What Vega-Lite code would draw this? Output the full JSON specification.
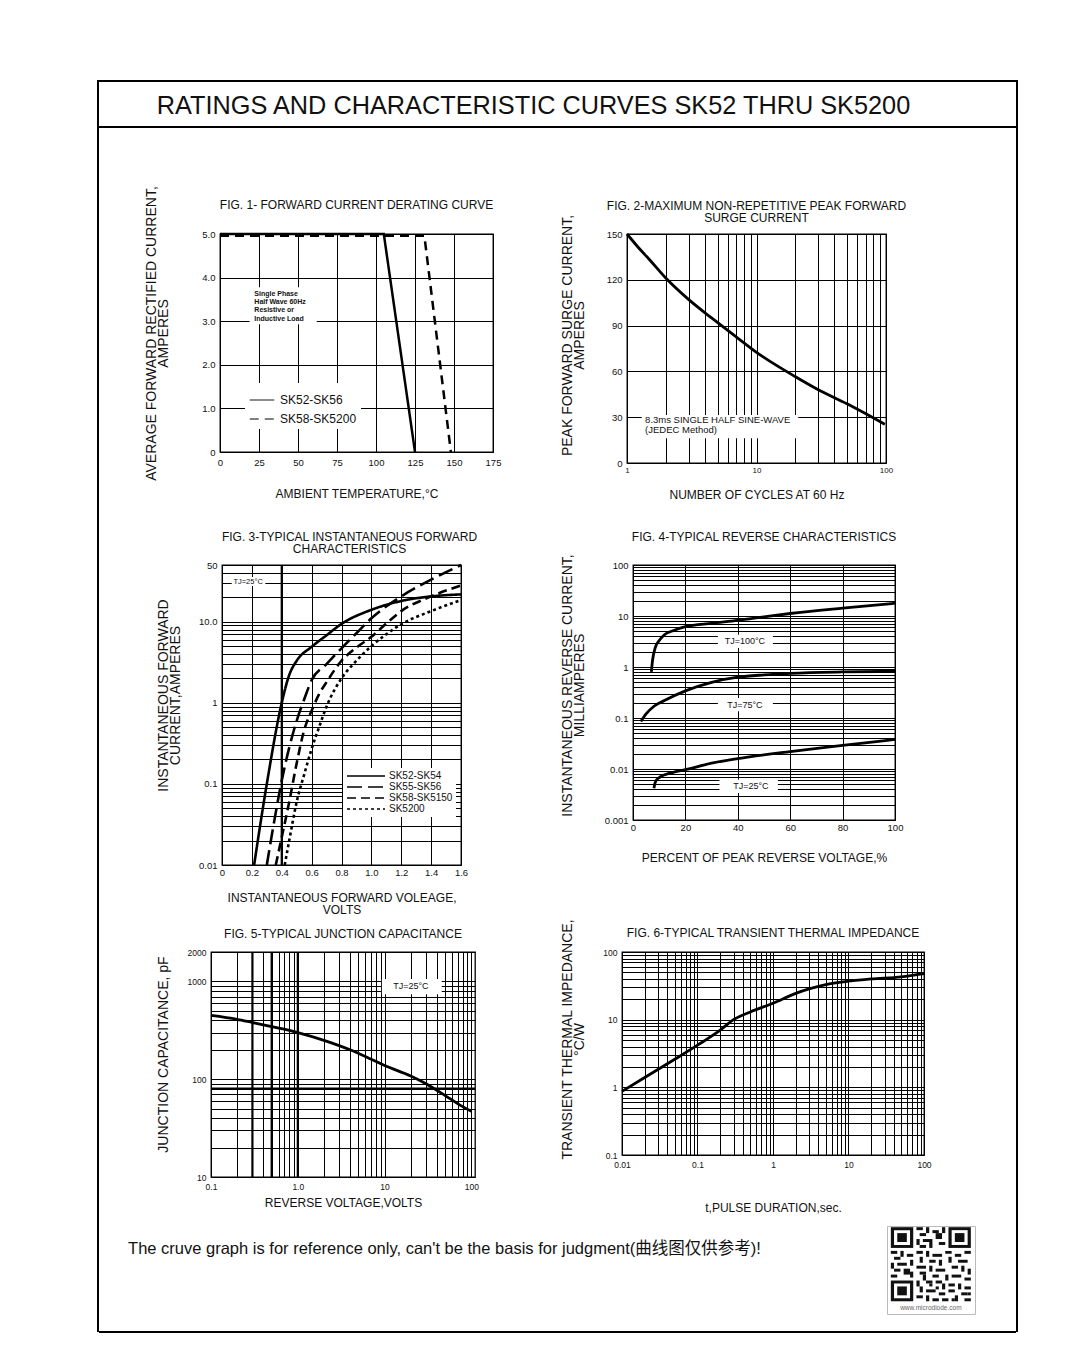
{
  "$schema": "https://vega.github.io/schema/vega-lite/v6.json",
  "padding": {"left": 97, "top": 80, "right": 0, "bottom": 0},
  "background": "white",
  "spacing": 0,
  "config": {
    "font": "Liberation Sans, Noto Sans CJK SC",
    "concat": {"spacing": 0},
    "view": {"stroke": "black", "strokeWidth": 1.3},
    "axis": {"domain": false, "ticks": false, "grid": true, "gridColor": "black", "gridOpacity": 1, "gridWidth": 1, "labelColor": "#111", "labelFontSize": 9.5, "labelPadding": 5, "labelFlush": false, "labelOverlap": false, "labelBound": false, "titleFontWeight": "normal", "titleColor": "#111", "titleFontSize": 12, "titleLineHeight": 12},
    "title": {"fontWeight": "normal", "fontSize": 12, "color": "#111", "lineHeight": 12, "anchor": "middle"},
    "legend": {"labelColor": "#111", "symbolStrokeColor": "black"}
  },
  "resolve": {"scale": {"x": "independent", "y": "independent", "strokeDash": "independent"}, "legend": {"strokeDash": "independent"}},
  "hconcat": [
    {"width": 2, "height": 1252, "data": {"values": []}, "mark": "point", "view": {"stroke": null, "fill": "black"}},
    {
      "spacing": 0,
      "resolve": {"scale": {"x": "independent", "y": "independent", "strokeDash": "independent"}, "legend": {"strokeDash": "independent"}},
      "vconcat": [
        {"width": 917, "height": 2, "data": {"values": []}, "mark": "point", "view": {"stroke": null, "fill": "black"}},
        {"spacing": 0, "bounds": "flush", "hconcat": [
          {"width": 58, "height": 44, "data": {"values": []}, "mark": "point", "view": {"stroke": null}},
          {"width": 753, "height": 44, "view": {"stroke": null}, "data": {"values": [{"t": "RATINGS AND CHARACTERISTIC CURVES SK52 THRU SK5200"}]}, "mark": {"type": "text", "fontSize": 25.3, "dy": 1.5, "color": "#111"}, "encoding": {"text": {"field": "t", "type": "nominal"}}}
        ]},
        {"width": 917, "height": 2, "data": {"values": []}, "mark": "point", "view": {"stroke": null, "fill": "black"}},
        {"width": 917, "height": 57, "data": {"values": []}, "mark": "point", "view": {"stroke": null}},
        {"spacing": 0, "bounds": "flush",
          "resolve": {"scale": {"x": "independent", "y": "independent", "strokeDash": "independent"}, "legend": {"strokeDash": "independent"}},
          "hconcat": [
          {"width": 121, "height": 1, "data": {"values": []}, "mark": "point", "view": {"stroke": null}},
          {
            "width": 273, "height": 218,
            "title": {"text": "FIG. 1- FORWARD CURRENT DERATING CURVE", "offset": -26},
            "encoding": {
              "x": {"field": "x", "type": "quantitative", "scale": {"domain": [0, 175], "nice": false, "zero": false}, "axis": {"values": [0, 25, 50, 75, 100, 125, 150, 175], "title": "AMBIENT TEMPERATURE,°C", "titlePadding": 22, "labelFlush": false}},
              "y": {"field": "y", "type": "quantitative", "scale": {"domain": [0, 5], "nice": false}, "axis": {"values": [0, 1, 2, 3, 4, 5], "labelExpr": "datum.value == 0 ? '0' : format(datum.value, '.1f')", "title": ["AVERAGE FORWARD RECTIFIED CURRENT,", "AMPERES"], "titleFontSize": 14, "titleLineHeight": 12, "titlePadding": 31, "titleY": 99}}
            },
            "layer": [
              {"data": {"values": [
                {"x": 0, "y": 5, "s": "SK52-SK56"}, {"x": 105, "y": 5, "s": "SK52-SK56"}, {"x": 125, "y": 0, "s": "SK52-SK56"},
                {"x": 0, "y": 4.96, "s": "SK58-SK5200"}, {"x": 131, "y": 4.96, "s": "SK58-SK5200"}, {"x": 148, "y": 0, "s": "SK58-SK5200"}
              ]},
               "mark": {"type": "line", "color": "black", "strokeWidth": 2.5},
               "encoding": {"strokeDash": {"field": "s", "type": "nominal", "scale": {"domain": ["SK52-SK56", "SK58-SK5200"], "range": [[1, 0], [9, 6]]}, "legend": {"orient": "none", "legendX": 25, "legendY": 149, "title": null, "symbolType": "stroke", "symbolSize": 600, "symbolStrokeWidth": 1, "symbolStrokeColor": "black", "labelFontSize": 12, "fillColor": "white", "padding": 4, "rowPadding": 0, "labelOffset": 5}}}
              },
              {"data": {"values": [{"x": 19, "x2": 62, "y": 2.93, "y2": 3.78}]}, "mark": {"type": "rect", "color": "white"}, "encoding": {"x2": {"field": "x2"}, "y2": {"field": "y2"}}},
              {"data": {"values": [
                {"x": 22, "y": 3.62, "t": "Single Phase"}, {"x": 22, "y": 3.44, "t": "Half Wave 60Hz"}, {"x": 22, "y": 3.26, "t": "Resistive or"}, {"x": 22, "y": 3.05, "t": "Inductive Load"}
              ]}, "mark": {"type": "text", "align": "left", "baseline": "middle", "fontSize": 7, "fontWeight": "bold", "color": "#111"}, "encoding": {"text": {"field": "t", "type": "nominal"}}}
            ]
          },
          {"width": 134, "height": 1, "data": {"values": []}, "mark": "point", "view": {"stroke": null}},
          {
            "width": 259, "height": 229,
            "title": {"text": ["FIG. 2-MAXIMUM NON-REPETITIVE PEAK FORWARD", "SURGE CURRENT"], "offset": -13},
            "encoding": {
              "x": {"field": "x", "type": "quantitative", "scale": {"type": "log", "domain": [1, 100], "nice": false}, "axis": {"values": [1, 2, 3, 4, 5, 6, 7, 8, 9, 10, 20, 30, 40, 50, 60, 70, 80, 90, 100], "labelExpr": "datum.value == 1 || datum.value == 10 || datum.value == 100 ? format(datum.value, 'd') : ''", "labelOverlap": false, "labelFlush": false, "labelFontSize": 8, "labelPadding": 3, "title": "NUMBER OF CYCLES AT 60 Hz", "titlePadding": 15}},
              "y": {"field": "y", "type": "quantitative", "scale": {"domain": [0, 150], "nice": false}, "axis": {"values": [0, 30, 60, 90, 120, 150], "title": ["PEAK  FORWARD SURGE CURRENT,", "AMPERES"], "titleFontSize": 14, "titleLineHeight": 12, "titlePadding": 20, "titleY": 101}}
            },
            "layer": [
              {"data": {"values": [
                {"x": 1, "y": 150}, {"x": 1.2, "y": 142}, {"x": 1.5, "y": 133}, {"x": 2, "y": 121}, {"x": 3, "y": 107}, {"x": 4.5, "y": 95}, {"x": 7, "y": 82.5}, {"x": 10, "y": 72.5}, {"x": 20, "y": 56.5}, {"x": 30, "y": 48}, {"x": 50, "y": 38.8}, {"x": 70, "y": 32.2}, {"x": 98, "y": 25.3}
              ]}, "mark": {"type": "line", "color": "black", "strokeWidth": 2.8, "interpolate": "monotone"}},
              {"data": {"values": [{"x": 1.3, "x2": 21, "y": 16.2, "y2": 31.4}]}, "mark": {"type": "rect", "color": "white"}, "encoding": {"x2": {"field": "x2"}, "y2": {"field": "y2"}}},
              {"data": {"values": [{"x": 1.38, "y": 28, "t": "8.3ms SINGLE HALF SINE-WAVE"}, {"x": 1.38, "y": 21.4, "t": "(JEDEC Method)"}]}, "mark": {"type": "text", "align": "left", "baseline": "middle", "fontSize": 9.5, "color": "#111"}, "encoding": {"text": {"field": "t", "type": "nominal"}}}
            ]
          }
        ]},
        {"width": 917, "height": 29, "data": {"values": []}, "mark": "point", "view": {"stroke": null}},
        {"spacing": 0, "bounds": "flush",
          "resolve": {"scale": {"x": "independent", "y": "independent", "strokeDash": "independent"}, "legend": {"strokeDash": "independent"}},
          "hconcat": [
          {"width": 123, "height": 1, "data": {"values": []}, "mark": "point", "view": {"stroke": null}},
          {
            "width": 239, "height": 300,
            "title": {"text": ["FIG. 3-TYPICAL INSTANTANEOUS FORWARD", "CHARACTERISTICS"], "offset": 4, "dx": 8},
            "encoding": {
              "x": {"field": "x", "type": "quantitative", "scale": {"domain": [0, 1.6], "nice": false, "zero": false}, "axis": {"values": [0, 0.2, 0.4, 0.6, 0.8, 1.0, 1.2, 1.4, 1.6], "labelExpr": "datum.value == 0 ? '0' : format(datum.value, '.1f')", "labelFlush": false, "labelPadding": 2, "title": ["INSTANTANEOUS FORWARD VOLEAGE,", "VOLTS"], "titlePadding": 16}},
              "y": {"field": "y", "type": "quantitative", "scale": {"type": "log", "domain": [0.01, 50], "nice": false}, "axis": {"values": [0.01, 0.02, 0.03, 0.04, 0.05, 0.06, 0.07, 0.08, 0.09, 0.1, 0.2, 0.3, 0.4, 0.5, 0.6, 0.7, 0.8, 0.9, 1, 2, 3, 4, 5, 6, 7, 8, 9, 10, 20, 30, 40, 50], "labelExpr": "datum.value == 50 ? '50' : datum.value == 10 ? '10.0' : datum.value == 1 ? '1' : datum.value == 0.1 ? '0.1' : datum.value == 0.01 ? '0.01' : ''", "labelOverlap": false, "title": ["INSTANTANEOUS FORWARD", "CURRENT,AMPERES"], "titleFontSize": 14, "titleLineHeight": 12, "titlePadding": 16, "titleY": 130}}
            },
            "layer": [
              {"data": {"values": [
                {"x": 0.215, "y": 0.01, "s": "SK52-SK54"}, {"x": 0.3, "y": 0.1, "s": "SK52-SK54"}, {"x": 0.4, "y": 1, "s": "SK52-SK54"}, {"x": 0.45, "y": 2.2, "s": "SK52-SK54"}, {"x": 0.5, "y": 3.3, "s": "SK52-SK54"}, {"x": 0.6, "y": 4.9, "s": "SK52-SK54"}, {"x": 0.7, "y": 6.8, "s": "SK52-SK54"}, {"x": 0.8, "y": 9.4, "s": "SK52-SK54"}, {"x": 1.0, "y": 14, "s": "SK52-SK54"}, {"x": 1.2, "y": 18, "s": "SK52-SK54"}, {"x": 1.4, "y": 20.5, "s": "SK52-SK54"}, {"x": 1.6, "y": 21.7, "s": "SK52-SK54"},
                {"x": 0.3, "y": 0.01, "s": "SK55-SK56"}, {"x": 0.35, "y": 0.035, "s": "SK55-SK56"}, {"x": 0.4, "y": 0.11, "s": "SK55-SK56"}, {"x": 0.45, "y": 0.28, "s": "SK55-SK56"}, {"x": 0.5, "y": 0.6, "s": "SK55-SK56"}, {"x": 0.55, "y": 1.1, "s": "SK55-SK56"}, {"x": 0.6, "y": 1.9, "s": "SK55-SK56"}, {"x": 0.7, "y": 3.0, "s": "SK55-SK56"}, {"x": 0.8, "y": 4.7, "s": "SK55-SK56"}, {"x": 0.9, "y": 7.2, "s": "SK55-SK56"}, {"x": 1.0, "y": 11, "s": "SK55-SK56"}, {"x": 1.2, "y": 20.5, "s": "SK55-SK56"}, {"x": 1.4, "y": 33, "s": "SK55-SK56"}, {"x": 1.6, "y": 50, "s": "SK55-SK56"},
                {"x": 0.36, "y": 0.01, "s": "SK58-SK5150"}, {"x": 0.4, "y": 0.022, "s": "SK58-SK5150"}, {"x": 0.45, "y": 0.06, "s": "SK58-SK5150"}, {"x": 0.5, "y": 0.18, "s": "SK58-SK5150"}, {"x": 0.55, "y": 0.46, "s": "SK58-SK5150"}, {"x": 0.6, "y": 0.8, "s": "SK58-SK5150"}, {"x": 0.65, "y": 1.28, "s": "SK58-SK5150"}, {"x": 0.7, "y": 1.8, "s": "SK58-SK5150"}, {"x": 0.8, "y": 3.3, "s": "SK58-SK5150"}, {"x": 0.9, "y": 4.8, "s": "SK58-SK5150"}, {"x": 1.0, "y": 6.5, "s": "SK58-SK5150"}, {"x": 1.1, "y": 9.5, "s": "SK58-SK5150"}, {"x": 1.2, "y": 13.5, "s": "SK58-SK5150"}, {"x": 1.4, "y": 20.5, "s": "SK58-SK5150"}, {"x": 1.6, "y": 28, "s": "SK58-SK5150"},
                {"x": 0.42, "y": 0.01, "s": "SK5200"}, {"x": 0.45, "y": 0.02, "s": "SK5200"}, {"x": 0.5, "y": 0.06, "s": "SK5200"}, {"x": 0.55, "y": 0.13, "s": "SK5200"}, {"x": 0.6, "y": 0.27, "s": "SK5200"}, {"x": 0.65, "y": 0.5, "s": "SK5200"}, {"x": 0.7, "y": 0.9, "s": "SK5200"}, {"x": 0.8, "y": 2.0, "s": "SK5200"}, {"x": 0.9, "y": 3.3, "s": "SK5200"}, {"x": 1.0, "y": 5.0, "s": "SK5200"}, {"x": 1.1, "y": 7, "s": "SK5200"}, {"x": 1.2, "y": 9.3, "s": "SK5200"}, {"x": 1.4, "y": 13.5, "s": "SK5200"}, {"x": 1.6, "y": 18.5, "s": "SK5200"}
              ]},
               "mark": {"type": "line", "color": "black", "strokeWidth": 2.6, "interpolate": "monotone"},
               "encoding": {"strokeDash": {"field": "s", "type": "nominal", "scale": {"domain": ["SK52-SK54", "SK55-SK56", "SK58-SK5150", "SK5200"], "range": [[1, 0], [15, 6], [9, 5], [3, 3]]}, "legend": {"orient": "none", "legendX": 121, "legendY": 203, "title": null, "symbolType": "stroke", "symbolSize": 1444, "symbolStrokeWidth": 1.3, "symbolStrokeColor": "black", "labelFontSize": 10, "fillColor": "white", "padding": 3, "rowPadding": 1, "clipHeight": 10, "labelOffset": 3}}}
              },
              {"data": {"values": [{"x": 0.4, "y": 0.01, "y2": 50}]}, "mark": {"type": "rule", "color": "black", "strokeWidth": 2.2}, "encoding": {"y2": {"field": "y2"}}},
              {"data": {"values": [{"x": 0.065, "x2": 0.29, "y": 27.5, "y2": 35.5}]}, "mark": {"type": "rect", "color": "white"}, "encoding": {"x2": {"field": "x2"}, "y2": {"field": "y2"}}},
              {"data": {"values": [{"x": 0.175, "y": 31, "t": "TJ=25°C"}]}, "mark": {"type": "text", "baseline": "middle", "fontSize": 7.5, "color": "#111"}, "encoding": {"text": {"field": "t", "type": "nominal"}}}
            ]
          },
          {"width": 172, "height": 1, "data": {"values": []}, "mark": "point", "view": {"stroke": null}},
          {
            "width": 262, "height": 255,
            "title": {"text": "FIG. 4-TYPICAL REVERSE CHARACTERISTICS", "offset": 10},
            "encoding": {
              "x": {"field": "x", "type": "quantitative", "scale": {"domain": [0, 100], "nice": false, "zero": false}, "axis": {"values": [0, 20, 40, 60, 80, 100], "labelFlush": false, "labelPadding": 2, "title": "PERCENT OF PEAK REVERSE VOLTAGE,%", "titlePadding": 21}},
              "y": {"field": "y", "type": "quantitative", "scale": {"type": "log", "domain": [0.001, 100], "nice": false}, "axis": {"values": [0.001, 0.002, 0.003, 0.004, 0.005, 0.006, 0.007, 0.008, 0.009, 0.01, 0.02, 0.03, 0.04, 0.05, 0.06, 0.07, 0.08, 0.09, 0.1, 0.2, 0.3, 0.4, 0.5, 0.6, 0.7, 0.8, 0.9, 1, 2, 3, 4, 5, 6, 7, 8, 9, 10, 20, 30, 40, 50, 60, 70, 80, 90, 100], "labelExpr": "datum.value == 100 ? '100' : datum.value == 10 ? '10' : datum.value == 1 ? '1' : datum.value == 0.1 ? '0.1' : datum.value == 0.01 ? '0.01' : datum.value == 0.001 ? '0.001' : ''", "labelOverlap": false, "title": ["INSTANTANEOUS REVERSE CURRENT,", "MILLIAMPERES"], "titleFontSize": 14, "titleLineHeight": 12, "titlePadding": 18, "titleY": 120}}
            },
            "layer": [
              {"data": {"values": [
                {"x": 7, "y": 0.8, "s": "100"}, {"x": 7.5, "y": 1.4, "s": "100"}, {"x": 8.5, "y": 2.4, "s": "100"}, {"x": 10, "y": 3.3, "s": "100"}, {"x": 12, "y": 4.3, "s": "100"}, {"x": 15, "y": 5.1, "s": "100"}, {"x": 20, "y": 6.2, "s": "100"}, {"x": 30, "y": 7.2, "s": "100"}, {"x": 40, "y": 8.2, "s": "100"}, {"x": 50, "y": 9.6, "s": "100"}, {"x": 60, "y": 11.2, "s": "100"}, {"x": 80, "y": 14.3, "s": "100"}, {"x": 100, "y": 17.8, "s": "100"},
                {"x": 3, "y": 0.085, "s": "75"}, {"x": 5, "y": 0.12, "s": "75"}, {"x": 8, "y": 0.17, "s": "75"}, {"x": 12, "y": 0.22, "s": "75"}, {"x": 20, "y": 0.34, "s": "75"}, {"x": 30, "y": 0.5, "s": "75"}, {"x": 40, "y": 0.63, "s": "75"}, {"x": 50, "y": 0.7, "s": "75"}, {"x": 60, "y": 0.75, "s": "75"}, {"x": 80, "y": 0.8, "s": "75"}, {"x": 100, "y": 0.82, "s": "75"},
                {"x": 8, "y": 0.0042, "s": "25"}, {"x": 8.5, "y": 0.0055, "s": "25"}, {"x": 10, "y": 0.0068, "s": "25"}, {"x": 15, "y": 0.0085, "s": "25"}, {"x": 20, "y": 0.0097, "s": "25"}, {"x": 30, "y": 0.013, "s": "25"}, {"x": 40, "y": 0.016, "s": "25"}, {"x": 60, "y": 0.022, "s": "25"}, {"x": 80, "y": 0.029, "s": "25"}, {"x": 100, "y": 0.038, "s": "25"}
              ]}, "mark": {"type": "line", "color": "black", "strokeWidth": 2.8, "interpolate": "monotone"}, "encoding": {"detail": {"field": "s", "type": "nominal"}}},
              {"data": {"values": [{"x": 32.4, "x2": 53.4, "y": 2.36, "y2": 4.3}, {"x": 32.4, "x2": 53.4, "y": 0.135, "y2": 0.247}, {"x": 33, "x2": 55.3, "y": 0.0034, "y2": 0.0062}]}, "mark": {"type": "rect", "color": "white"}, "encoding": {"x2": {"field": "x2"}, "y2": {"field": "y2"}}},
              {"data": {"values": [{"x": 42.7, "y": 3.2, "t": "TJ=100°C"}, {"x": 42.7, "y": 0.182, "t": "TJ=75°C"}, {"x": 45, "y": 0.0046, "t": "TJ=25°C"}]}, "mark": {"type": "text", "baseline": "middle", "fontSize": 9, "color": "#111"}, "encoding": {"text": {"field": "t", "type": "nominal"}}}
            ]
          }
        ]},
        {"spacing": 0, "bounds": "flush",
          "resolve": {"scale": {"x": "independent", "y": "independent"}},
          "hconcat": [
          {"width": 112, "height": 1, "data": {"values": []}, "mark": "point", "view": {"stroke": null}},
          {
            "width": 264, "height": 225,
            "title": {"text": "FIG. 5-TYPICAL JUNCTION CAPACITANCE", "offset": 7},
            "encoding": {
              "x": {"field": "x", "type": "quantitative", "scale": {"type": "log", "domain": [0.1, 110], "nice": false}, "axis": {"values": [0.1, 0.2, 0.3, 0.4, 0.5, 0.6, 0.7, 0.8, 0.9, 1, 2, 3, 4, 5, 6, 7, 8, 9, 10, 20, 30, 40, 50, 60, 70, 80, 90, 100], "labelExpr": "datum.value == 0.1 ? '0.1' : datum.value == 1 ? '1.0' : datum.value == 10 ? '10' : datum.value == 100 ? '100' : ''", "labelOverlap": false, "labelFlush": false, "labelFontSize": 8.5, "title": "REVERSE VOLTAGE,VOLTS", "titlePadding": 7}},
              "y": {"field": "y", "type": "quantitative", "scale": {"type": "log", "domain": [10, 2000], "nice": false}, "axis": {"values": [10, 20, 30, 40, 50, 60, 70, 80, 90, 100, 200, 300, 400, 500, 600, 700, 800, 900, 1000, 2000], "labelExpr": "datum.value == 10 ? '10' : datum.value == 100 ? '100' : datum.value == 1000 ? '1000' : datum.value == 2000 ? '2000' : ''", "labelOverlap": false, "labelFontSize": 8.5, "title": "JUNCTION CAPACITANCE, pF", "titleFontSize": 14, "titlePadding": 17, "titleY": 102}}
            },
            "layer": [
              {"data": {"values": [{"x": 0.3, "y": 10, "y2": 2000}, {"x": 0.5, "y": 10, "y2": 2000}, {"x": 1, "y": 10, "y2": 2000}]}, "mark": {"type": "rule", "color": "black", "strokeWidth": 2.2}, "encoding": {"y2": {"field": "y2"}}},
              {"data": {"values": [{"x": 0.1, "x2": 110, "y": 80}]}, "mark": {"type": "rule", "color": "black", "strokeWidth": 2.2}, "encoding": {"x2": {"field": "x2"}}},
              {"data": {"values": [
                {"x": 0.1, "y": 450}, {"x": 0.2, "y": 410}, {"x": 0.3, "y": 380}, {"x": 0.5, "y": 345}, {"x": 1, "y": 300}, {"x": 2, "y": 250}, {"x": 4, "y": 200}, {"x": 7, "y": 160}, {"x": 10, "y": 138}, {"x": 20, "y": 108}, {"x": 30, "y": 90}, {"x": 50, "y": 68}, {"x": 70, "y": 56}, {"x": 100, "y": 47}
              ]}, "mark": {"type": "line", "color": "black", "strokeWidth": 2.8, "interpolate": "monotone"}},
              {"data": {"values": [{"x": 9.3, "x2": 45.5, "y": 740, "y2": 1060}]}, "mark": {"type": "rect", "color": "white"}, "encoding": {"x2": {"field": "x2"}, "y2": {"field": "y2"}}},
              {"data": {"values": [{"x": 20.1, "y": 890, "t": "TJ=25°C"}]}, "mark": {"type": "text", "baseline": "middle", "fontSize": 9, "color": "#111"}, "encoding": {"text": {"field": "t", "type": "nominal"}}}
            ]
          },
          {"width": 147, "height": 1, "data": {"values": []}, "mark": "point", "view": {"stroke": null}},
          {
            "width": 302, "height": 203,
            "title": {"text": "FIG. 6-TYPICAL TRANSIENT THERMAL IMPEDANCE", "offset": -22},
            "encoding": {
              "x": {"field": "x", "type": "quantitative", "scale": {"type": "log", "domain": [0.01, 100], "nice": false}, "axis": {"values": [0.01, 0.02, 0.03, 0.04, 0.05, 0.06, 0.07, 0.08, 0.09, 0.1, 0.2, 0.3, 0.4, 0.5, 0.6, 0.7, 0.8, 0.9, 1, 2, 3, 4, 5, 6, 7, 8, 9, 10, 20, 30, 40, 50, 60, 70, 80, 90, 100], "labelExpr": "datum.value == 0.01 ? '0.01' : datum.value == 0.1 ? '0.1' : datum.value == 1 ? '1' : datum.value == 10 ? '10' : datum.value == 100 ? '100' : ''", "labelOverlap": false, "labelFlush": false, "labelFontSize": 8.5, "title": "t,PULSE DURATION,sec.", "titlePadding": 34}},
              "y": {"field": "y", "type": "quantitative", "scale": {"type": "log", "domain": [0.1, 100], "nice": false}, "axis": {"values": [0.1, 0.2, 0.3, 0.4, 0.5, 0.6, 0.7, 0.8, 0.9, 1, 2, 3, 4, 5, 6, 7, 8, 9, 10, 20, 30, 40, 50, 60, 70, 80, 90, 100], "labelExpr": "datum.value == 0.1 ? '0.1' : datum.value == 1 ? '1' : datum.value == 10 ? '10' : datum.value == 100 ? '100' : ''", "labelOverlap": false, "labelFontSize": 8.5, "title": ["TRANSIENT THERMAL IMPEDANCE,", "°C/W"], "titleFontSize": 14, "titleLineHeight": 12, "titlePadding": 16, "titleY": 87}}
            },
            "layer": [
              {"data": {"values": [
                {"x": 0.01, "y": 0.87}, {"x": 0.02, "y": 1.4}, {"x": 0.05, "y": 2.6}, {"x": 0.1, "y": 4.2}, {"x": 0.2, "y": 7.0}, {"x": 0.3, "y": 10}, {"x": 0.5, "y": 13}, {"x": 1, "y": 17.5}, {"x": 2, "y": 24.5}, {"x": 3, "y": 28.5}, {"x": 5, "y": 33}, {"x": 10, "y": 37}, {"x": 20, "y": 40}, {"x": 50, "y": 43}, {"x": 100, "y": 48}
              ]}, "mark": {"type": "line", "color": "black", "strokeWidth": 2.8, "interpolate": "monotone"}}
            ]
          }
        ]},
        {"width": 917, "height": 10, "data": {"values": []}, "mark": "point", "view": {"stroke": null}},
        {"spacing": 0, "bounds": "flush",
          "resolve": {"scale": {"x": "independent", "y": "independent"}},
          "hconcat": [
          {"width": 27, "height": 1, "data": {"values": []}, "mark": "point", "view": {"stroke": null}},
          {"width": 637, "height": 46, "view": {"stroke": null}, "data": {"values": [{"t": "The cruve graph is for reference only, can't be the basis for judgment(曲线图仅供参考)!"}]}, "mark": {"type": "text", "fontSize": 16.5, "color": "#111"}, "encoding": {"text": {"field": "t", "type": "nominal"}}},
          {"width": 124, "height": 1, "data": {"values": []}, "mark": "point", "view": {"stroke": null}},
          {
            "width": 88, "height": 88,
            "view": {"stroke": "#bbbbbb", "strokeWidth": 1},
            "encoding": {
              "x": {"field": "x", "type": "quantitative", "scale": {"domain": [-1.2, 26.3], "nice": false, "zero": false}, "axis": null},
              "y": {"field": "y", "type": "quantitative", "scale": {"domain": [-0.4, 29.3], "nice": false, "zero": false, "reverse": true}, "axis": null}
            },
            "layer": [
              {"data": {"values": [
                {"x": 0, "x2": 7, "y": 0, "y2": 7}, {"x": 18, "x2": 25, "y": 0, "y2": 7}, {"x": 0, "x2": 7, "y": 18, "y2": 25},
                {"x": 8, "x2": 10, "y": 0, "y2": 1}, {"x": 11, "x2": 12, "y": 0, "y2": 2}, {"x": 13, "x2": 15, "y": 1, "y2": 2}, {"x": 9, "x2": 11, "y": 2, "y2": 3}, {"x": 14, "x2": 16, "y": 2, "y2": 4}, {"x": 8, "x2": 9, "y": 4, "y2": 6}, {"x": 10, "x2": 13, "y": 4, "y2": 5}, {"x": 12, "x2": 13, "y": 5, "y2": 7}, {"x": 15, "x2": 17, "y": 5, "y2": 6}, {"x": 9, "x2": 11, "y": 6, "y2": 7}, {"x": 16, "x2": 17, "y": 0, "y2": 2},
                {"x": 0, "x2": 2, "y": 8, "y2": 9}, {"x": 3, "x2": 4, "y": 8, "y2": 10}, {"x": 5, "x2": 7, "y": 9, "y2": 10}, {"x": 1, "x2": 3, "y": 10, "y2": 11}, {"x": 0, "x2": 1, "y": 12, "y2": 14}, {"x": 2, "x2": 5, "y": 12, "y2": 13}, {"x": 6, "x2": 7, "y": 11, "y2": 13}, {"x": 1, "x2": 3, "y": 14, "y2": 15}, {"x": 4, "x2": 6, "y": 14, "y2": 16}, {"x": 0, "x2": 2, "y": 16, "y2": 17}, {"x": 6, "x2": 7, "y": 15, "y2": 17},
                {"x": 8, "x2": 10, "y": 8, "y2": 9}, {"x": 11, "x2": 12, "y": 8, "y2": 10}, {"x": 13, "x2": 16, "y": 9, "y2": 10}, {"x": 17, "x2": 19, "y": 8, "y2": 9}, {"x": 20, "x2": 22, "y": 9, "y2": 10}, {"x": 23, "x2": 25, "y": 8, "y2": 9}, {"x": 9, "x2": 10, "y": 10, "y2": 12}, {"x": 12, "x2": 14, "y": 11, "y2": 12}, {"x": 15, "x2": 16, "y": 11, "y2": 13}, {"x": 18, "x2": 19, "y": 10, "y2": 12}, {"x": 21, "x2": 24, "y": 11, "y2": 12}, {"x": 8, "x2": 11, "y": 13, "y2": 14}, {"x": 12, "x2": 13, "y": 13, "y2": 15}, {"x": 14, "x2": 17, "y": 14, "y2": 15}, {"x": 19, "x2": 21, "y": 13, "y2": 14}, {"x": 22, "x2": 23, "y": 13, "y2": 15}, {"x": 24, "x2": 25, "y": 14, "y2": 16}, {"x": 9, "x2": 11, "y": 15, "y2": 16}, {"x": 10, "x2": 11, "y": 16, "y2": 18}, {"x": 13, "x2": 15, "y": 16, "y2": 17}, {"x": 17, "x2": 18, "y": 16, "y2": 18}, {"x": 19, "x2": 22, "y": 16, "y2": 17}, {"x": 23, "x2": 25, "y": 17, "y2": 18}, {"x": 8, "x2": 9, "y": 18, "y2": 20}, {"x": 11, "x2": 13, "y": 18, "y2": 19}, {"x": 14, "x2": 16, "y": 18, "y2": 19}, {"x": 16, "x2": 17, "y": 19, "y2": 21}, {"x": 18, "x2": 20, "y": 19, "y2": 20}, {"x": 21, "x2": 22, "y": 19, "y2": 21}, {"x": 23, "x2": 25, "y": 20, "y2": 21}, {"x": 9, "x2": 10, "y": 20, "y2": 22}, {"x": 11, "x2": 14, "y": 21, "y2": 22}, {"x": 15, "x2": 17, "y": 22, "y2": 23}, {"x": 18, "x2": 20, "y": 21, "y2": 22}, {"x": 20, "x2": 21, "y": 23, "y2": 25}, {"x": 22, "x2": 24, "y": 22, "y2": 23}, {"x": 8, "x2": 10, "y": 23, "y2": 24}, {"x": 11, "x2": 12, "y": 23, "y2": 25}, {"x": 13, "x2": 15, "y": 24, "y2": 25}, {"x": 16, "x2": 18, "y": 24, "y2": 25}, {"x": 19, "x2": 20, "y": 24, "y2": 25}, {"x": 23, "x2": 25, "y": 24, "y2": 25}, {"x": 24, "x2": 25, "y": 22, "y2": 23}, {"x": 12, "x2": 13, "y": 19, "y2": 20}, {"x": 14, "x2": 15, "y": 20, "y2": 21}
              ]}, "mark": {"type": "rect", "color": "#111"}, "encoding": {"x2": {"field": "x2"}, "y2": {"field": "y2"}}},
              {"data": {"values": [{"x": 1, "x2": 6, "y": 1, "y2": 6}, {"x": 19, "x2": 24, "y": 1, "y2": 6}, {"x": 1, "x2": 6, "y": 19, "y2": 24}]}, "mark": {"type": "rect", "color": "white"}, "encoding": {"x2": {"field": "x2"}, "y2": {"field": "y2"}}},
              {"data": {"values": [{"x": 2, "x2": 5, "y": 2, "y2": 5}, {"x": 20, "x2": 23, "y": 2, "y2": 5}, {"x": 2, "x2": 5, "y": 20, "y2": 23}]}, "mark": {"type": "rect", "color": "#111"}, "encoding": {"x2": {"field": "x2"}, "y2": {"field": "y2"}}},
              {"data": {"values": [{"x": 12.5, "y": 27.4, "t": "www.microdiode.com"}]}, "mark": {"type": "text", "baseline": "middle", "fontSize": 6.5, "color": "#666"}, "encoding": {"text": {"field": "t", "type": "nominal"}}}
            ]
          }
        ]},
        {"width": 917, "height": 16, "data": {"values": []}, "mark": "point", "view": {"stroke": null}},
        {"width": 917, "height": 2, "data": {"values": []}, "mark": "point", "view": {"stroke": null, "fill": "black"}}
      ]
    },
    {"width": 2, "height": 1252, "data": {"values": []}, "mark": "point", "view": {"stroke": null, "fill": "black"}}
  ]
}
